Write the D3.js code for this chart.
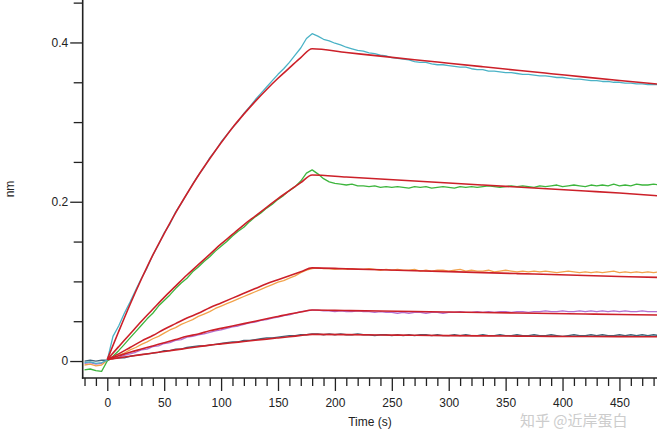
<!DOCTYPE html>
<html>
<head>
<meta charset="utf-8">
<script src="https://cdn.jsdelivr.net/npm/d3@7/dist/d3.min.js"></script>
<style>
  html, body { margin: 0; padding: 0; background: #fff; }
  svg { display: block; }
  text { font-family: "Liberation Sans", Arial, sans-serif; }
</style>
</head>
<body>
<svg id="chart" width="657" height="430"></svg>
<script>
// ---------- data ----------
const rawTime = [
  -20,-15,-10,-5,0,5,10,15,20,25,
  30,35,40,45,50,55,60,65,70,75,
  80,85,90,95,100,105,110,115,120,125,
  130,135,140,145,150,155,160,165,170,175,
  180,185,190,195,200,205,210,215,220,225,
  230,235,240,245,250,255,260,265,270,275,
  280,285,290,295,300,305,310,315,320,325,
  330,335,340,345,350,355,360,365,370,375,
  380,385,390,395,400,405,410,415,420,425,
  430,435,440,445,450,455,460,465,470,475,
  480,485
];

const rawCyan = [
  -0.002,-0.001,-0.003,-0.002,0.001,0.031,0.044,0.060,0.074,0.089,
  0.104,0.117,0.133,0.146,0.161,0.172,0.187,0.198,0.210,0.222,
  0.233,0.243,0.255,0.264,0.275,0.284,0.293,0.301,0.311,0.319,
  0.328,0.336,0.344,0.352,0.360,0.367,0.375,0.384,0.393,0.405,
  0.411,0.408,0.404,0.402,0.399,0.397,0.394,0.392,0.390,0.389,
  0.387,0.386,0.384,0.383,0.381,0.380,0.379,0.378,0.376,0.375,
  0.375,0.373,0.372,0.372,0.371,0.370,0.369,0.369,0.367,0.366,
  0.366,0.364,0.364,0.363,0.362,0.362,0.361,0.360,0.360,0.359,
  0.358,0.358,0.357,0.356,0.356,0.355,0.354,0.354,0.353,0.352,
  0.352,0.351,0.351,0.350,0.350,0.349,0.349,0.348,0.348,0.347,
  0.347,0.347
];

const rawGreen = [
  -0.011,-0.010,-0.012,-0.013,0.000,0.006,0.013,0.021,0.029,0.037,
  0.045,0.053,0.060,0.069,0.076,0.083,0.091,0.098,0.104,0.112,
  0.118,0.125,0.131,0.138,0.144,0.150,0.157,0.163,0.168,0.175,
  0.181,0.186,0.192,0.197,0.203,0.208,0.214,0.219,0.226,0.236,
  0.240,0.235,0.229,0.225,0.223,0.222,0.221,0.222,0.220,0.220,
  0.219,0.220,0.218,0.219,0.218,0.219,0.218,0.217,0.219,0.218,
  0.219,0.217,0.218,0.219,0.218,0.217,0.219,0.218,0.219,0.218,
  0.219,0.220,0.219,0.218,0.219,0.220,0.219,0.220,0.219,0.218,
  0.220,0.219,0.220,0.221,0.219,0.220,0.221,0.220,0.219,0.221,
  0.220,0.221,0.220,0.222,0.220,0.221,0.220,0.222,0.221,0.221,
  0.222,0.221
];

const rawOrange = [
  -0.005,-0.004,-0.006,-0.005,0.001,0.003,0.007,0.010,0.014,0.017,
  0.021,0.024,0.028,0.031,0.035,0.039,0.042,0.046,0.049,0.052,
  0.056,0.059,0.062,0.066,0.069,0.072,0.075,0.078,0.081,0.084,
  0.087,0.090,0.093,0.096,0.099,0.101,0.104,0.107,0.111,0.114,
  0.116,0.117,0.116,0.116,0.115,0.116,0.115,0.116,0.115,0.115,
  0.116,0.115,0.114,0.115,0.114,0.115,0.114,0.114,0.115,0.113,
  0.114,0.113,0.114,0.114,0.113,0.114,0.115,0.113,0.114,0.113,
  0.113,0.114,0.112,0.113,0.114,0.113,0.112,0.113,0.112,0.113,
  0.112,0.113,0.112,0.111,0.112,0.113,0.112,0.111,0.112,0.111,
  0.112,0.111,0.112,0.113,0.111,0.112,0.111,0.112,0.111,0.112,
  0.111,0.112
];

const rawPink = [
  -0.003,-0.002,-0.004,-0.003,0.001,0.003,0.005,0.007,0.009,0.011,
  0.014,0.015,0.018,0.019,0.022,0.023,0.026,0.027,0.030,0.031,
  0.033,0.034,0.036,0.038,0.039,0.041,0.043,0.044,0.046,0.048,
  0.049,0.051,0.052,0.054,0.055,0.057,0.058,0.060,0.062,0.063,
  0.064,0.064,0.063,0.063,0.062,0.063,0.062,0.062,0.063,0.062,
  0.062,0.061,0.062,0.061,0.061,0.060,0.061,0.060,0.061,0.061,
  0.060,0.061,0.061,0.060,0.061,0.061,0.062,0.061,0.061,0.062,
  0.061,0.062,0.061,0.062,0.062,0.061,0.062,0.062,0.061,0.062,
  0.062,0.063,0.062,0.062,0.063,0.062,0.062,0.063,0.062,0.063,
  0.062,0.063,0.062,0.063,0.062,0.063,0.062,0.062,0.063,0.062,
  0.062,0.062
];

const rawDark = [
  0.000,0.001,0.000,0.001,0.001,0.003,0.004,0.004,0.006,0.007,
  0.008,0.009,0.010,0.011,0.013,0.013,0.015,0.015,0.017,0.018,
  0.019,0.019,0.020,0.021,0.022,0.023,0.024,0.024,0.026,0.026,
  0.027,0.028,0.029,0.029,0.030,0.031,0.032,0.032,0.033,0.033,
  0.034,0.034,0.033,0.034,0.033,0.034,0.033,0.033,0.034,0.033,
  0.033,0.032,0.033,0.033,0.032,0.033,0.032,0.033,0.032,0.033,
  0.033,0.032,0.033,0.032,0.032,0.033,0.032,0.033,0.032,0.032,
  0.033,0.032,0.032,0.033,0.032,0.032,0.033,0.032,0.032,0.033,
  0.032,0.032,0.033,0.032,0.031,0.032,0.033,0.032,0.032,0.033,
  0.032,0.033,0.032,0.032,0.033,0.032,0.033,0.032,0.033,0.032,
  0.033,0.032
];

const fitTime = [0,10,20,30,40,50,60,70,80,90,100,110,120,130,140,150,160,170,180,
                 210,240,270,300,330,360,390,420,450,483];
const fitCyan = [0.002,0.037,0.071,0.103,0.133,0.160,0.186,0.210,0.233,0.254,0.274,0.293,0.310,0.326,0.341,0.355,0.368,0.381,0.392,
                 0.3874,0.3828,0.3783,0.3739,0.3695,0.3651,0.3608,0.3565,0.3523,0.3478];
const fitGreen = [0.002,0.018,0.034,0.050,0.065,0.080,0.094,0.108,0.121,0.134,0.147,0.159,0.171,0.182,0.193,0.204,0.214,0.224,0.2335,
                  0.231,0.2285,0.226,0.2235,0.221,0.2185,0.216,0.2135,0.211,0.2075];
const fitOrange = [0.002,0.009,0.017,0.025,0.032,0.040,0.047,0.054,0.060,0.067,0.073,0.079,0.085,0.091,0.097,0.102,0.107,0.112,0.117,
                   0.1158,0.1146,0.1134,0.1122,0.111,0.1098,0.1086,0.1074,0.1062,0.105];
const fitPink = [0.002,0.0065,0.011,0.015,0.019,0.023,0.027,0.031,0.034,0.038,0.041,0.044,0.047,0.050,0.053,0.056,0.059,0.0615,0.064,
                 0.0634,0.0628,0.0621,0.0615,0.0609,0.0603,0.0597,0.059,0.0584,0.0578];
const fitDark = [0.002,0.004,0.006,0.008,0.010,0.012,0.014,0.016,0.018,0.020,0.0215,0.023,0.0245,0.026,0.0275,0.029,0.0305,0.032,0.0335,
                 0.0331,0.0327,0.0323,0.0319,0.0316,0.0313,0.031,0.0308,0.0306,0.0304];

const xMajorTicks = [0,50,100,150,200,250,300,350,400,450];
const yMajorTicks = [0,0.2,0.4];
const xLabel = "Time (s)";
const yLabel = "nm";
const watermark = "知乎 @近岸蛋白";

// ---------- drawing ----------
(function () {
  const svg = d3.select("#chart");
  const mLeft = 82.7, mRight = 657, mTop = 0, mBottom = 378;

  const x = d3.scaleLinear().domain([-21.6, 483]).range([mLeft, mRight]);
  const y = d3.scaleLinear().domain([-0.0213, 0.4533]).range([mBottom, mTop]);

  svg.append("defs").append("clipPath").attr("id", "plotclip")
    .append("rect").attr("x", mLeft).attr("y", mTop).attr("width", mRight - mLeft).attr("height", mBottom - mTop);

  const plot = svg.append("g").attr("clip-path", "url(#plotclip)");

  const line = d3.line().x(d => x(d[0])).y(d => y(d[1]));
  const fitLine = d3.line().x(d => x(d[0])).y(d => y(d[1])).curve(d3.curveMonotoneX);

  const rawSeries = [
    { v: rawDark,   c: "#3f6478" },
    { v: rawPink,   c: "#b36fd0" },
    { v: rawOrange, c: "#f2a24a" },
    { v: rawGreen,  c: "#3db53d" },
    { v: rawCyan,   c: "#4ab2c6" }
  ];
  rawSeries.forEach(s => {
    plot.append("path")
      .datum(rawTime.map((t, i) => [t, s.v[i]]))
      .attr("fill", "none").attr("stroke", s.c).attr("stroke-width", 1.3)
      .attr("stroke-linejoin", "round")
      .attr("d", line);
  });

  [fitDark, fitPink, fitOrange, fitGreen, fitCyan].forEach(f => {
    plot.append("path")
      .datum(fitTime.map((t, i) => [t, f[i]]))
      .attr("fill", "none").attr("stroke", "#cc2029").attr("stroke-width", 1.6)
      .attr("stroke-linejoin", "round")
      .attr("d", fitLine);
  });

  const axisColor = "#222";
  const fmtY = d => d === 0 ? "0" : d3.format(".1f")(d);

  const yMinor = d3.range(1, 10).map(i => i * 0.05)
    .filter(v => !yMajorTicks.some(m => Math.abs(m - v) < 1e-6));
  const xMinor = d3.range(-2, 49).map(i => i * 10)
    .filter(v => !xMajorTicks.includes(v));

  // y minor
  svg.append("g").attr("transform", `translate(${mLeft},0)`)
    .call(d3.axisLeft(y).tickValues(yMinor).tickSize(9).tickFormat(""))
    .call(g => g.select(".domain").remove())
    .call(g => g.selectAll("line").attr("stroke", axisColor).attr("stroke-width", 1.3));

  // y major
  svg.append("g").attr("transform", `translate(${mLeft},0)`)
    .call(d3.axisLeft(y).tickValues(yMajorTicks).tickSize(12.5).tickPadding(2).tickFormat(fmtY))
    .call(g => g.select(".domain").remove())
    .call(g => g.selectAll("line").attr("stroke", axisColor).attr("stroke-width", 1.3))
    .call(g => g.selectAll("text").attr("fill", "#222").style("font-size", "12px"));

  // x minor
  svg.append("g").attr("transform", `translate(0,${mBottom})`)
    .call(d3.axisBottom(x).tickValues(xMinor).tickSize(8).tickFormat(""))
    .call(g => g.select(".domain").remove())
    .call(g => g.selectAll("line").attr("stroke", axisColor).attr("stroke-width", 1.3));

  // x major
  svg.append("g").attr("transform", `translate(0,${mBottom})`)
    .call(d3.axisBottom(x).tickValues(xMajorTicks).tickSize(13).tickPadding(7.5).tickFormat(d3.format("d")))
    .call(g => g.select(".domain").remove())
    .call(g => g.selectAll("line").attr("stroke", axisColor).attr("stroke-width", 1.3))
    .call(g => g.selectAll("text").attr("fill", "#222").style("font-size", "12px"));

  // axis lines
  svg.append("line").attr("x1", mLeft).attr("x2", mLeft).attr("y1", 0).attr("y2", mBottom + 0.65)
    .attr("stroke", axisColor).attr("stroke-width", 1.6);
  svg.append("line").attr("x1", mLeft - 0.8).attr("x2", mRight).attr("y1", mBottom).attr("y2", mBottom)
    .attr("stroke", axisColor).attr("stroke-width", 1.6);

  // axis titles
  svg.append("text").attr("x", 370).attr("y", 426).attr("text-anchor", "middle")
    .style("font-size", "12px").attr("fill", "#222").text(xLabel);
  svg.append("text").attr("transform", "translate(14,189) rotate(-90)").attr("text-anchor", "middle")
    .style("font-size", "12px").attr("fill", "#222").text(yLabel);

  // watermark (kept clear of the tick labels)
  svg.append("text").attr("x", 520).attr("y", 426)
    .style("font-family", "'Noto Sans CJK SC', sans-serif").style("font-size", "15px")
    .attr("fill", "#c4c4c4").attr("opacity", 0.85).text(watermark);
})();
</script>
</body>
</html>
